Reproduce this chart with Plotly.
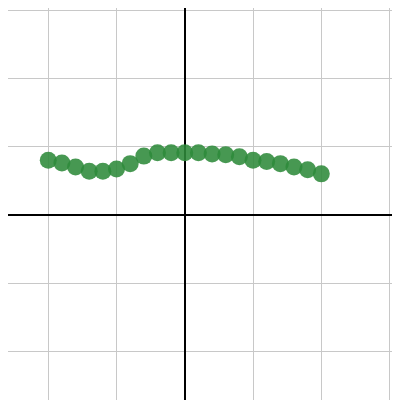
import plotly.graph_objects as go

x_vals = [-2.0, -1.8, -1.6, -1.4, -1.2, -1.0, -0.8, -0.6, -0.4, -0.2, 0.0,
          0.2, 0.4, 0.6, 0.8, 1.0, 1.2, 1.4, 1.6, 1.8, 2.0]
y_vals = [0.80, 0.76, 0.70, 0.64, 0.64, 0.67, 0.75, 0.86, 0.91, 0.91, 0.91,
          0.91, 0.89, 0.88, 0.85, 0.80, 0.78, 0.75, 0.70, 0.66, 0.60]

fig = go.Figure(go.Scatter(
    x=x_vals, y=y_vals, mode="markers",
    marker=dict(size=17, color="rgb(46,138,58)", opacity=0.88, line=dict(width=0)),
))
axis = dict(showticklabels=False, showgrid=True, gridcolor="rgb(200,200,200)", gridwidth=1,
            dtick=1, zeroline=True, zerolinecolor="black", zerolinewidth=2,
            showline=False, ticks="")
fig.update_xaxes(range=[-2.59, 3.27], **axis)
fig.update_yaxes(range=[-2.83, 3.03], **axis)
fig.update_layout(width=400, height=400, margin=dict(l=0, r=0, t=0, b=0),
                  plot_bgcolor="white", paper_bgcolor="white", showlegend=False)
fig.write_html("out.html")
